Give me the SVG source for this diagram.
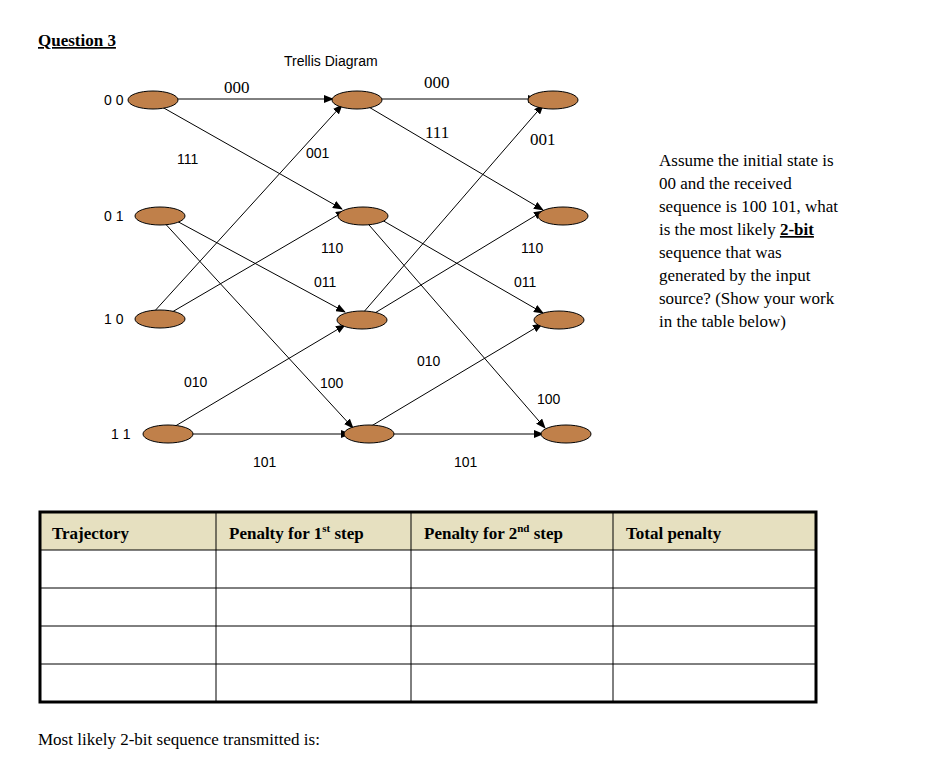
<svg xmlns="http://www.w3.org/2000/svg" width="935" height="758" viewBox="0 0 935 758">
<style>
.s{font-family:"Liberation Serif",serif;font-size:17px;fill:#000}
.a{font-family:"Liberation Sans",sans-serif;font-size:14px;fill:#000}
.n{fill:#c0804a;stroke:#000;stroke-width:1}
.e{stroke:#000;stroke-width:1;fill:none;marker-end:url(#ar)}
.b{font-family:"Liberation Serif",serif;font-size:17px;font-weight:bold}
</style>
<defs><marker id="ar" markerWidth="10" markerHeight="8" refX="9" refY="4" orient="auto" markerUnits="userSpaceOnUse"><path d="M0,0L10,4L0,8z" fill="#000"/></marker></defs>
<rect width="935" height="758" fill="#fff"/>
<text x="38" y="46" class="b" text-decoration="underline">Question 3</text>
<text x="284" y="66" class="a" font-size="15">Trellis Diagram</text>
<g id="connectors">
<path class="e" d="M160,99H333"/>
<path class="e" d="M155,103L342,209"/>
<path class="e" d="M160,212L345,312"/>
<path class="e" d="M160,218L353,428"/>
<path class="e" d="M152,314L342,105"/>
<path class="e" d="M155,322L345,211"/>
<path class="e" d="M165,434H350"/>
<path class="e" d="M172,428L345,325"/>
<path class="e" d="M363,99H537"/>
<path class="e" d="M362,103L543,210"/>
<path class="e" d="M368,212L543,313"/>
<path class="e" d="M363,218L545,428"/>
<path class="e" d="M362,314L543,105"/>
<path class="e" d="M360,322L543,211"/>
<path class="e" d="M368,434H543"/>
<path class="e" d="M368,428L542,324"/>
</g>
<g id="c1r0"><ellipse class="n" cx="153" cy="100" rx="25" ry="9"/><text x="104" y="105" class="a">0 0</text></g>
<g id="c1r1"><ellipse class="n" cx="160" cy="216" rx="25" ry="9"/><text x="104" y="221" class="a">0 1</text></g>
<g id="c1r2"><ellipse class="n" cx="160" cy="319" rx="25" ry="9"/><text x="104" y="324" class="a">1 0</text></g>
<g id="c1r3"><ellipse class="n" cx="168" cy="434" rx="25" ry="9"/><text x="111" y="439" class="a">1 1</text></g>
<g id="c2r0"><ellipse class="n" cx="357" cy="100" rx="25" ry="9"/></g>
<g id="c2r1"><ellipse class="n" cx="363" cy="216" rx="25" ry="9"/></g>
<g id="c2r2"><ellipse class="n" cx="362" cy="320" rx="25" ry="9"/></g>
<g id="c2r3"><ellipse class="n" cx="369" cy="434" rx="25" ry="9"/></g>
<g id="c3r0"><ellipse class="n" cx="553" cy="100" rx="25" ry="9"/></g>
<g id="c3r1"><ellipse class="n" cx="563" cy="216" rx="25" ry="9"/></g>
<g id="c3r2"><ellipse class="n" cx="559" cy="320" rx="25" ry="9"/></g>
<g id="c3r3"><ellipse class="n" cx="566" cy="434" rx="25" ry="9"/></g>
<g id="labels">
<text x="224" y="93" class="s">000</text>
<text x="424" y="88" class="s">000</text>
<text x="425" y="138" class="s">111</text>
<text x="530" y="145" class="s">001</text>
<text x="177" y="164" class="a">111</text>
<text x="306" y="158" class="a">001</text>
<text x="321" y="253" class="a">110</text>
<text x="314" y="287" class="a">011</text>
<text x="521" y="253" class="a">110</text>
<text x="514" y="287" class="a">011</text>
<text x="417" y="366" class="a">010</text>
<text x="184" y="387" class="a">010</text>
<text x="320" y="388" class="a">100</text>
<text x="537" y="404" class="a">100</text>
<text x="253" y="467" class="a">101</text>
<text x="454" y="467" class="a">101</text>
</g>
<g class="s">
<text x="659" y="166">Assume the initial state is</text>
<text x="659" y="189">00 and the received</text>
<text x="659" y="212">sequence is 100 101, what</text>
<text x="659" y="235">is the most likely <tspan font-weight="bold" text-decoration="underline">2-bit</tspan></text>
<text x="659" y="258">sequence that was</text>
<text x="659" y="281">generated by the input</text>
<text x="659" y="304">source? (Show your work</text>
<text x="659" y="327">in the table below)</text>
</g>
<g id="table">
<rect x="40" y="512" width="776" height="38" fill="#e6e0c0"/>
<g stroke="#000" stroke-width="1">
<path d="M40,550H816M40,588H816M40,626H816M40,664H816M216,512V702M411,512V702M613,512V702"/>
</g>
<rect x="40" y="512" width="776" height="190" fill="none" stroke="#000" stroke-width="3"/>
<text x="52" y="539" class="b">Trajectory</text>
<text x="229" y="539" class="b">Penalty for 1<tspan font-size="11" dy="-7">st</tspan><tspan dy="7"> step</tspan></text>
<text x="424" y="539" class="b">Penalty for 2<tspan font-size="11" dy="-7">nd</tspan><tspan dy="7"> step</tspan></text>
<text x="626" y="539" class="b">Total penalty</text>
</g>
<text x="38" y="745" class="s">Most likely 2-bit sequence transmitted is:</text>
</svg>
